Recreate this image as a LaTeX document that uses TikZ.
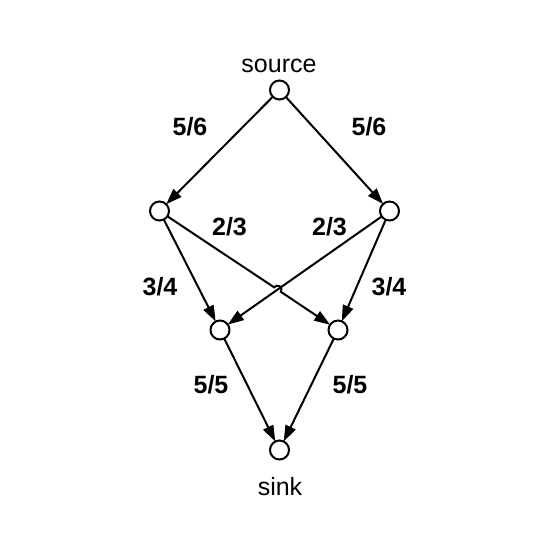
\documentclass[tikz,border=0pt]{standalone}
\usepackage{fontspec}
\setmainfont{Liberation Sans}
\usetikzlibrary{arrows.meta}
\begin{document}
\begin{tikzpicture}[x=1pt,y=-1pt, line width=2pt, hollow/.style={
            circle,
            fill=white,
            draw,
            outer sep=0pt,
            inner sep=0pt,
            minimum size=19pt,
            line width=2pt
          }, flow/.style={-{Triangle[length=16pt,width=11pt]}},
          capacity/.style={font=\fontsize{25}{29}\selectfont\bfseries},
          vlabel/.style={font=\fontsize{25}{29}\selectfont}]
    \useasboundingbox (0,0) rectangle (550,560);

    % vertices
    \node[hollow] (src) at (279.5, 90) {};
    \node[hollow] (a) at (159.5, 211) {};
    \node[hollow] (b) at (389.5, 211) {};
    \node[hollow] (c) at (220, 330) {};
    \node[hollow] (d) at (338, 330) {};
    \node[hollow] (snk) at (279.5, 450) {};

    \node[vlabel] (srcname) at (279, 66) {source};
    \node[vlabel] (snkname) at (280, 487) {sink};

    % edges
    \draw[flow] (src) -- (a);
    \draw[flow] (src) -- (b);
    \draw[flow] (a) -- (c);
    \draw[flow] (b) -- (c);
    \draw[flow] (b) -- (d);
    \draw[flow] (c) -- (snk);
    \draw[flow] (d) -- (snk);

    % edge a--d hops over b--c
    \coordinate (hop) at (277.5, 289.6);
    \draw[flow] (a) -- ([shift={(-3.3,-2.2)}]hop) arc[start angle=-146.3, end angle=33.7, radius=4] -- (d);

    % capacities
    \node[capacity] (l1) at (190, 127) {5/6};
    \node[capacity] (l2) at (369, 127) {5/6};
    \node[capacity] (l3) at (229.5, 226.5) {2/3};
    \node[capacity] (l4) at (329.5, 226.5) {2/3};
    \node[capacity] (l5) at (160, 287) {3/4};
    \node[capacity] (l6) at (389, 287) {3/4};
    \node[capacity] (l7) at (211, 385) {5/5};
    \node[capacity] (l8) at (350, 385) {5/5};
\end{tikzpicture}
\end{document}
